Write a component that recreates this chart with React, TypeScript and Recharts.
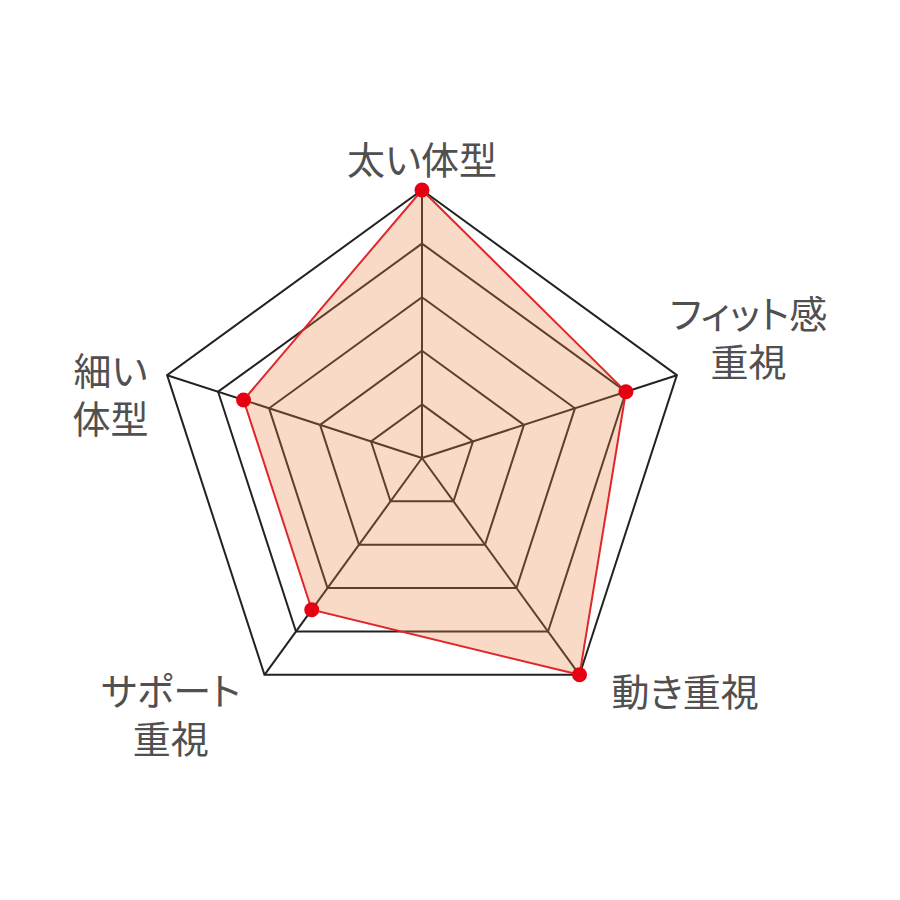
import React from "react";
import {
  PolarAngleAxis,
  PolarGrid,
  PolarRadiusAxis,
  Radar,
  RadarChart,
} from "recharts";

// axes, clockwise from the top
const categories = ["太い体型", "フィット感重視", "動き重視", "サポート重視", "細い体型"];
// how each label is broken into lines
const labelLines = [["太い体型"], ["フィット感", "重視"], ["動き重視"], ["サポート", "重視"], ["細い", "体型"]];
const scores = [5, 4, 5, 3.5, 3.5];
const maxScore = 5;

const data = categories.map((c, i) => ({ axis: c, score: scores[i] }));

// label offsets from the tick point: [dx, first-line dy]
const labelOffset: [number, number][] = [
  [0, -25],
  [64, -62],
  [101, 8],
  [-89, 7],
  [-49, -5],
];
const lineGap = 48;

function AxisLabel(props: any) {
  const { x, y, payload } = props;
  const i = categories.indexOf(payload.value);
  const [dx, dy] = labelOffset[i];
  return (
    <text
      x={x + dx}
      y={y + dy}
      textAnchor="middle"
      dominantBaseline="central"
      fill="#505050"
      fontSize={38}
      fontFamily="'Noto Sans CJK JP', sans-serif"
      style={{ fontFeatureSettings: '"palt"' }}
    >
      {labelLines[i].map((line, k) => (
        <tspan key={k} x={x + dx} dy={k === 0 ? 0 : lineGap}>
          {line}
        </tspan>
      ))}
    </text>
  );
}

function Dot(props: any) {
  const { cx, cy } = props;
  return <circle cx={cx} cy={cy} r={7.5} fill="#e60012" />;
}

export default function App() {
  return (
    <div style={{ width: 900, height: 900, margin: -8, background: "#fff" }}>
      <div style={{ paddingLeft: 8, paddingTop: 8 }}>
        <RadarChart
          width={892}
          height={892}
          data={data}
          cx={414}
          cy={450}
          outerRadius={268}
          margin={{ top: 0, right: 0, bottom: 0, left: 0 }}
        >
          <PolarGrid gridType="polygon" stroke="#222" strokeWidth={2} strokeOpacity={1} />
          <PolarRadiusAxis
            domain={[0, maxScore]}
            tickCount={6}
            axisLine={false}
            tick={false}
          />
          <PolarAngleAxis dataKey="axis" tick={AxisLabel} tickLine={false} />
          <Radar
            dataKey="score"
            stroke="#e0262b"
            strokeWidth={2}
            fill="#eb8441"
            fillOpacity={0.3}
            dot={Dot}
            isAnimationActive={false}
          />
        </RadarChart>
      </div>
    </div>
  );
}
